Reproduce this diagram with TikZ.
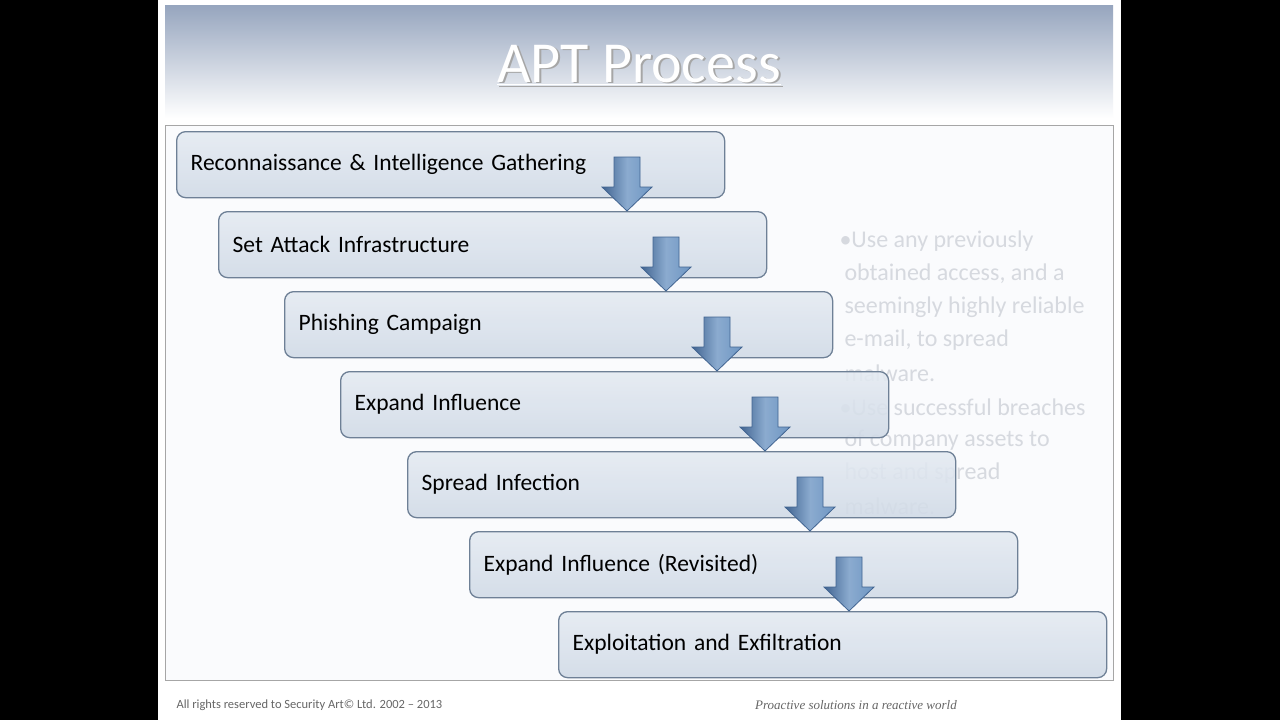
\documentclass[tikz,border=0pt]{standalone}
\usepackage{fontspec}
\setmainfont{Carlito}
\definecolor{boxfill}{RGB}{208,218,230}
\definecolor{boxtop}{RGB}{228,234,242}
\definecolor{boxline}{RGB}{110,128,150}
\definecolor{arr}{RGB}{110,150,195}
\definecolor{arrdark}{RGB}{65,100,145}
\definecolor{faint}{RGB}{214,217,223}
\tikzset{
 stepbox/.style={draw=boxline, line width=1.3pt, rounded corners=9pt, top color=boxtop, bottom color=boxfill, fill opacity=0.88, text opacity=1,
   minimum width=548pt, minimum height=66pt, anchor=north west, text width=520pt, align=left,
   font=\fontsize{23.5}{26}\selectfont, inner xsep=14pt},
 arrshape/.style={draw=arrdark, line width=0.8pt, left color=arrdark, right color=arr, middle color=arr!80!white},
 faintt/.style={text=faint, anchor=west, font=\fontsize{24}{26}\selectfont}
}
\newcommand{\downarrowat}[2]{%
  \path[arrshape] (#1-13,#2-27) -- (#1+13,#2-27) -- (#1+13,#2+3) -- (#1+25,#2+3) -- (#1,#2+27) -- (#1-25,#2+3) -- (#1-13,#2+3) -- cycle;}
\begin{document}
\begin{tikzpicture}[x=1pt,y=-1pt]
\useasboundingbox (0,0) rectangle (1280,720);
\fill[black] (0,0) rectangle (1280,720);
\fill[white] (158,0) rectangle (1121,720);
\shade[top color={rgb,255:red,150;green,165;blue,190}, bottom color=white] (165,5) rectangle (1113,118);
\node[text=gray!70] at (641,66.5) {\fontsize{58}{62}\selectfont\underline{APT Process}};
\node (title) [text=white] at (639,65) {\fontsize{58}{62}\selectfont\underline{APT Process}};
\draw[gray!70, line width=1pt, fill={rgb,255:red,250;green,251;blue,253}] (165,125) rectangle (1113,680);
\node[faintt] at (836,241) {\textbullet Use any previously};
\node[faintt] at (841,274) {obtained access, and a};
\node[faintt] at (841,307) {seemingly highly reliable};
\node[faintt] at (841,340) {e-mail, to spread};
\node[faintt] at (841,373) {malware.};
\node[faintt] at (836,407) {\textbullet Use successful breaches};
\node[faintt] at (841,440) {of company assets to};
\node[faintt] at (841,473) {host and spread};
\node[faintt] at (841,506) {malware.};
\node[stepbox] (b1) at (176,131) {Reconnaissance \& Intelligence Gathering};
\node[stepbox] (b2) at (218,211) {Set Attack Infrastructure};
\node[stepbox] (b3) at (284,291) {Phishing Campaign};
\node[stepbox] (b4) at (340,371) {Expand Influence};
\node[stepbox] (b5) at (407,451) {Spread Infection};
\node[stepbox] (b6) at (469,531) {Expand Influence (Revisited)};
\node[stepbox] (b7) at (558,611) {Exploitation and Exfiltration};
\downarrowat{627}{184}
\downarrowat{666}{264}
\downarrowat{717}{344}
\downarrowat{765}{424}
\downarrowat{810}{504}
\downarrowat{849}{584}
\node[anchor=west, text=gray!80!black, font=\fontsize{12.5}{14}\selectfont] (c) at (173,705) {All rights reserved to Security Art© Ltd. 2002 – 2013};
\node[text=gray!80!black] (m) at (856,705) {\fontspec{Liberation Serif}\fontsize{13}{14}\selectfont\itshape Proactive solutions in a reactive world};
\end{tikzpicture}
\end{document}
